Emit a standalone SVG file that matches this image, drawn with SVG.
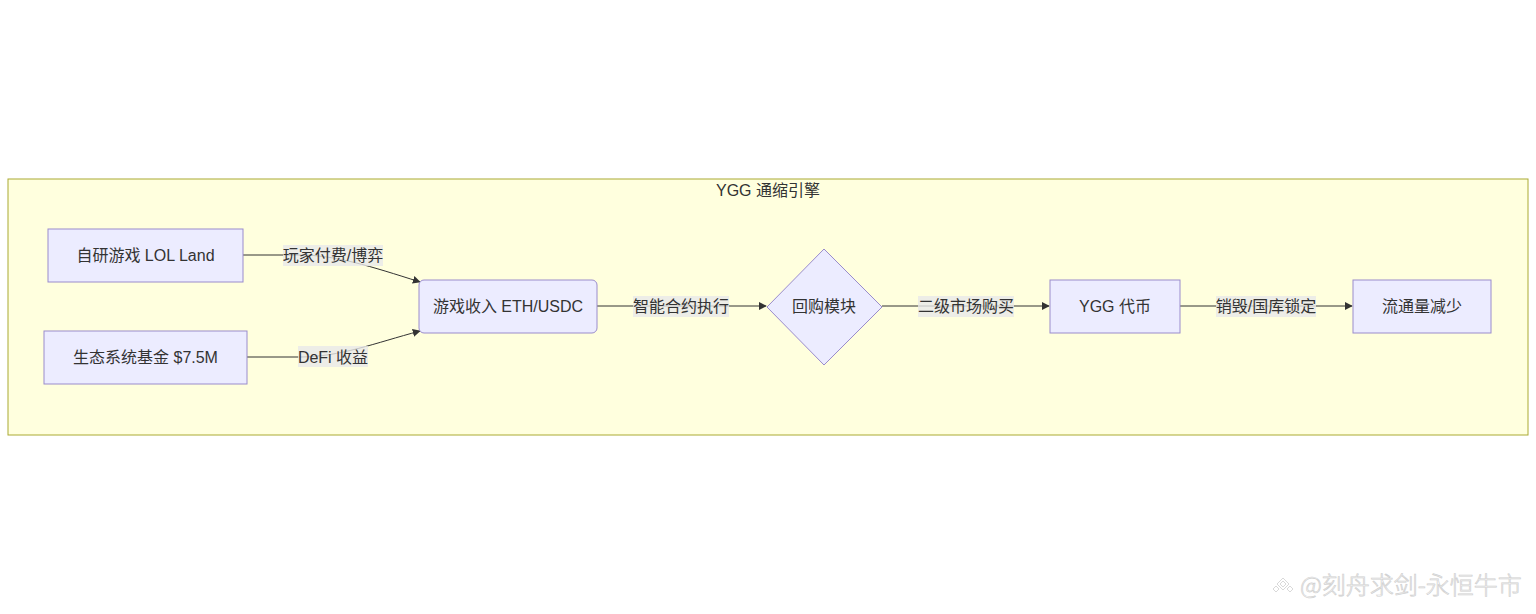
<svg xmlns="http://www.w3.org/2000/svg" width="1536" height="614" viewBox="0 0 1536 614">
<style>
.node rect, .node polygon { fill: #ececff; stroke: #9a8ccc; stroke-width: 1; }
.t { font-family: "Liberation Sans", "Noto Sans CJK SC", sans-serif; font-size: 16px; fill: #333; text-anchor: middle; dominant-baseline: central; }
.edge { fill: none; stroke: #333; stroke-width: 1; }
.lblbg { fill: #e8e8e8; fill-opacity: 0.8; }
.wm { font-family: "Noto Sans CJK SC", "Liberation Sans", sans-serif; font-size: 24px; font-weight: 300; fill: #ffffff; stroke: #cfcfcf; stroke-width: 0.7; }
</style>
<defs>
<marker id="arrow" viewBox="0 0 10 10" refX="9" refY="5" markerWidth="8" markerHeight="8" markerUnits="userSpaceOnUse" orient="auto">
<path d="M0,0 L10,5 L0,10 z" fill="#333"/>
</marker>
</defs>
<rect width="1536" height="614" fill="#ffffff"/>
<g id="cluster">
<rect x="8" y="179" width="1520" height="256" fill="#ffffde" stroke="#aaaa33" stroke-width="1"/>
<text class="t" x="768" y="190">YGG 通缩引擎</text>
</g>
<g id="edges">
<path class="edge" d="M243,255 L300,255 C335,255 370,266 420,282" marker-end="url(#arrow)"/>
<path class="edge" d="M247,357 L300,357 C340,357 375,343 420,331" marker-end="url(#arrow)"/>
<path class="edge" d="M597,306 L766,306" marker-end="url(#arrow)"/>
<path class="edge" d="M882,306 L1049,306" marker-end="url(#arrow)"/>
<path class="edge" d="M1180,306 L1352,306" marker-end="url(#arrow)"/>
</g>
<g id="edge-labels">
<rect class="lblbg" x="283" y="245" width="100" height="21"/>
<text class="t" x="333" y="255">玩家付费/博弈</text>
<rect class="lblbg" x="298" y="346" width="70" height="21"/>
<text class="t" x="333" y="357">DeFi 收益</text>
<rect class="lblbg" x="633" y="296" width="96" height="21"/>
<text class="t" x="681" y="306">智能合约执行</text>
<rect class="lblbg" x="918" y="296" width="96" height="21"/>
<text class="t" x="966" y="306">二级市场购买</text>
<rect class="lblbg" x="1216" y="296" width="100" height="21"/>
<text class="t" x="1266" y="306">销毁/国库锁定</text>
</g>
<g id="node-lol" class="node">
<rect x="48" y="229" width="195" height="53"/>
<text class="t" x="145.5" y="255">自研游戏 LOL Land</text>
</g>
<g id="node-fund" class="node">
<rect x="44" y="331" width="203" height="53"/>
<text class="t" x="145.5" y="357">生态系统基金 $7.5M</text>
</g>
<g id="node-revenue" class="node">
<rect x="419" y="280" width="178" height="53" rx="5" ry="5"/>
<text class="t" x="508" y="306">游戏收入 ETH/USDC</text>
</g>
<g id="node-buyback" class="node">
<polygon points="824,249 882,307 824,365 767,307"/>
<text class="t" x="824" y="306">回购模块</text>
</g>
<g id="node-ygg" class="node">
<rect x="1050" y="280" width="130" height="53"/>
<text class="t" x="1115" y="306">YGG 代币</text>
</g>
<g id="node-supply" class="node">
<rect x="1353" y="280" width="138" height="53"/>
<text class="t" x="1422" y="306">流通量减少</text>
</g>
<g id="watermark">
<g fill="#ffffff" stroke="#cfcfcf" stroke-width="0.8">
<polygon points="1283,578 1289,584 1283,590 1277,584"/>
<polygon points="1283,581 1286,584 1283,587 1280,584"/>
<polygon points="1276,586 1279,589 1276,592 1273,589"/>
<polygon points="1290,586 1293,589 1290,592 1287,589"/>
</g>
<text class="wm" x="1300" y="594">@刻舟求剑-永恒牛市</text>
</g>
</svg>
